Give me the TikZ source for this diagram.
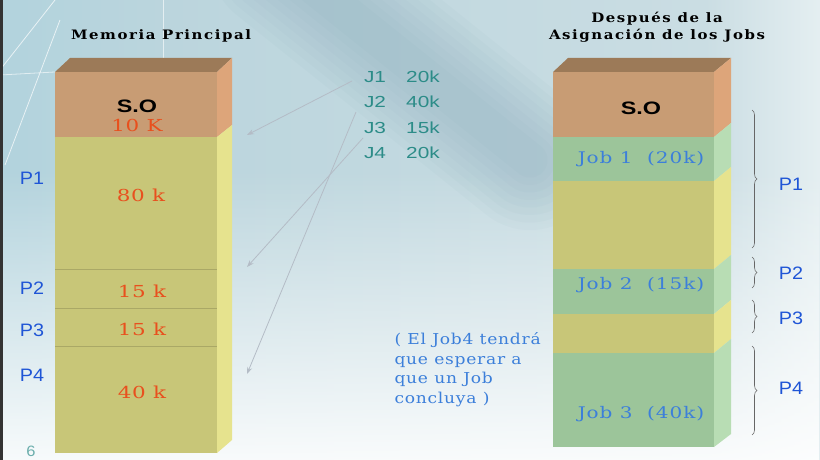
\documentclass[tikz,border=0pt]{standalone}
\usepackage{fontspec}
\newfontfamily\arialw[FakeStretch=1.3]{Liberation Sans}
\newfontfamily\arialp[FakeStretch=1.1]{Liberation Sans}
\newfontfamily\srf[FakeStretch=1.3,LetterSpace=4]{DejaVu Serif}
\newfontfamily\srfj[FakeStretch=1.25,LetterSpace=6]{DejaVu Serif}
\newfontfamily\srfn[FakeStretch=1.14,LetterSpace=5]{DejaVu Serif}
\newfontfamily\srfb[FakeStretch=1.15,LetterSpace=12]{DejaVu Serif Bold}
\usetikzlibrary{decorations.pathreplacing,arrows.meta,fadings}
\definecolor{c0}{HTML}{8CC3D3}
\definecolor{c1}{HTML}{A9D1DC}
\definecolor{c2}{HTML}{BBD5DD}
\definecolor{c3}{HTML}{CADDE3}
\definecolor{c4}{HTML}{E8F1F3}
\definecolor{c5}{HTML}{F4F8F9}
\pgfdeclarehorizontalshading{bgh}{100bp}{color(0bp)=(c0); color(15bp)=(c1); color(35bp)=(c2); color(68bp)=(c3); color(76bp)=(c4); color(100bp)=(c5)}
\definecolor{band}{HTML}{6F97A8}
\definecolor{soF}{HTML}{C89C74}
\definecolor{soT}{HTML}{9C7A58}
\definecolor{soS}{HTML}{DDA57A}
\definecolor{yeF}{HTML}{C8C678}
\definecolor{yeS}{HTML}{E6E38E}
\definecolor{grF}{HTML}{9CC59A}
\definecolor{grS}{HTML}{B8DDB4}
\definecolor{redt}{HTML}{E8501E}
\definecolor{pblue}{HTML}{1F55D6}
\definecolor{jblue}{HTML}{3C7FDA}
\definecolor{teal}{HTML}{2C8C88}
\definecolor{arrg}{HTML}{B4BCC6}
\begin{document}
\begin{tikzpicture}[x=1pt,y=-1pt,
  title/.style={font=\srfb\fontsize{13}{16.5}\selectfont, align=center, text=black},
  sotxt/.style={font=\arialw\bfseries\fontsize{18}{18}\selectfont, text=black},
  kred/.style={font=\srf\fontsize{16.5}{16.5}\selectfont, text=redt},
  plbl/.style={font=\arialp\fontsize{18}{18}\selectfont, text=pblue},
  jl/.style={font=\arialw\fontsize{16}{16}\selectfont, text=teal},
  jobt/.style={font=\srfj\fontsize{16}{16}\selectfont, text=jblue},
  note/.style={font=\srfn\fontsize{15}{19.5}\selectfont, text=jblue, align=left},
  arr/.style={draw=arrg, line width=0.8pt, -{Stealth[length=7pt,width=5pt]}},
  brc/.style={draw=black!60, line width=0.6pt, decorate, decoration={brace, amplitude=5pt}},
  sep/.style={draw=yeF!85!black, line width=0.4pt}]
\useasboundingbox (0,0) rectangle (820,460);
% background
\shade[shading=bgh] (0,0) rectangle (820,460);
\fill[white, opacity=0.9, path fading=north] (0,170) rectangle (820,460);
\foreach \w in {140,125,110,95,80,65,50,35}
  \draw[band, opacity=0.04, line width=\w pt, line cap=round] (280,-40) -- (530,160);
\draw[white, opacity=0.7, line width=0.8pt] (0,70) -- (55,0);
\draw[white, opacity=0.7, line width=0.8pt] (5,165) -- (60,20);
\draw[white, opacity=0.6, line width=0.8pt] (0,75) -- (55,72);
\draw[white, opacity=0.6, line width=0.8pt] (163,0) -- (163,58);
\fill[black!80] (0,0) rectangle (3,460);

% ---------- left column ----------
\fill[soT] (55,72) -- (70,58) -- (232,58) -- (217,72) -- cycle;
\fill[soF] (55,72) rectangle (217,137);
\fill[soS] (217,72) -- (232,58) -- (232,125) -- (217,137) -- cycle;
\fill[yeF] (55,137) rectangle (217,453);
\fill[yeS] (217,137) -- (232,125) -- (232,440) -- (217,453) -- cycle;
\draw[sep] (55,269) -- (217,269);
\draw[sep] (55,308) -- (217,308);
\draw[sep] (55,346) -- (217,346);

\node[title] (tleft) at (161,36) {Memoria Principal};
\node[sotxt] (so1) at (137,106) {S.O};
\node[kred] (k10) at (137,125) {10 K};
\node[kred] (k80) at (141,195) {80 k};
\node[kred] (k15a) at (142,291) {15 k};
\node[kred] (k15b) at (142,329) {15 k};
\node[kred] (k40) at (142,392) {40 k};
\node[plbl] (lp1) at (32,178) {P1};
\node[plbl] (lp2) at (32,288) {P2};
\node[plbl] (lp3) at (32,330) {P3};
\node[plbl] (lp4) at (32,375) {P4};
\node[font=\arialp\fontsize{15}{15}\selectfont, text=teal!70] (pg) at (31,451) {6};

% ---------- job list ----------
\node[jl] (j1) at (375,77) {J1};
\node[jl] (j1k) at (423,77) {20k};
\node[jl] (j2) at (375,102) {J2};
\node[jl] (j2k) at (423,102) {40k};
\node[jl] (j3) at (375,128) {J3};
\node[jl] (j3k) at (423,128) {15k};
\node[jl] (j4) at (375,153) {J4};
\node[jl] (j4k) at (423,153) {20k};
\coordinate (t1) at (247,135);
\coordinate (t3) at (247,267);
\coordinate (t2) at (247,374);
\coordinate (s1) at (352,81);
\coordinate (s2) at (356,112);
\coordinate (s3) at (363,138);
\draw[arr] (s1) -- (t1);
\draw[arr] (s3) -- (t3);
\draw[arr] (s2) -- (t2);

% ---------- right column ----------
\fill[soT] (553,72) -- (568,58) -- (731,58) -- (714,72) -- cycle;
\fill[soF] (553,72) rectangle (714,137);
\fill[soS] (714,72) -- (731,58) -- (731,123) -- (714,137) -- cycle;
\fill[grF] (553,137) rectangle (714,181);
\fill[grS] (714,137) -- (731,123) -- (731,167) -- (714,181) -- cycle;
\fill[yeF] (553,181) rectangle (714,269);
\fill[yeS] (714,181) -- (731,167) -- (731,255) -- (714,269) -- cycle;
\fill[grF] (553,269) rectangle (714,314);
\fill[grS] (714,269) -- (731,255) -- (731,300) -- (714,314) -- cycle;
\fill[yeF] (553,314) rectangle (714,353);
\fill[yeS] (714,314) -- (731,300) -- (731,339) -- (714,353) -- cycle;
\fill[grF] (553,353) rectangle (714,447);
\fill[grS] (714,353) -- (731,339) -- (731,434) -- (714,447) -- cycle;

\node[title] (tright) at (657,27) {Después de la\\Asignación de los Jobs};
\node[sotxt] (so2) at (641,108) {S.O};
\node[jobt] (job1) at (641,159) {Job 1\ \ (20k)};
\node[jobt] (job2) at (641,285) {Job 2\ \ (15k)};
\node[jobt] (job3) at (641,414) {Job 3\ \ (40k)};

\draw[brc] (752,110) -- (752,248);
\draw[brc] (752,257) -- (752,288);
\draw[brc] (752,300) -- (752,333);
\draw[brc] (752,346) -- (752,435);
\node[plbl] (rp1) at (791,184) {P1};
\node[plbl] (rp2) at (791,273) {P2};
\node[plbl] (rp3) at (791,318) {P3};
\node[plbl] (rp4) at (791,388) {P4};

\node[note, anchor=north west] (nt) at (391,329) {( El Job4 tendrá\\que esperar a\\que un Job\\concluya )};
\end{tikzpicture}
\end{document}
